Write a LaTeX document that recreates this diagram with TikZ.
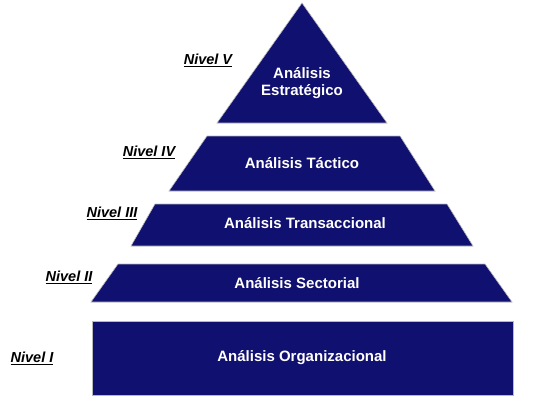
\documentclass[tikz,border=0pt]{standalone}
\usepackage{fontspec}
\setmainfont{Liberation Sans}
\usepackage{xcolor}
\definecolor{navy}{RGB}{16,16,112}

\begin{document}
\begin{tikzpicture}[x=1pt, y=-1pt,
        level/.style={fill=navy, draw=gray!55, line width=0.6pt},
        lbl/.style={text=white, font=\fontsize{15}{18}\selectfont\bfseries, align=center},
        nivel/.style={font=\fontsize{14.5}{16}\selectfont\bfseries\itshape}]
        \useasboundingbox (0,0) rectangle (545,412);

        % Pyramid levels
        \draw[level] (302,3) -- (387,123) -- (217,123) -- cycle;
        \draw[level] (207,136) -- (400,136) -- (435,191) -- (169,191) -- cycle;
        \draw[level] (155,204) -- (447,204) -- (473,246) -- (131,246) -- cycle;
        \draw[level] (118,264) -- (485,264) -- (512,302) -- (91,302) -- cycle;
        \draw[level] (92,321) rectangle (513,395);

        % Level texts
        \node[lbl] (estrategico) at (302,83) {Análisis\\[-1pt]Estratégico};
        \node[lbl] (tactico) at (302,163) {Análisis Táctico};
        \node[lbl] (transaccional) at (305,223) {Análisis Transaccional};
        \node[lbl] (sectorial) at (297,283) {Análisis Sectorial};
        \node[lbl] (organizacional) at (302,358) {Análisis Organizacional};

        % Level names
        \node[nivel] (nivelV) at (208,60) {\underline{Nivel V}};
        \node[nivel] (nivelIV) at (149,152) {\underline{Nivel IV}};
        \node[nivel] (nivelIII) at (112,213) {\underline{Nivel III}};
        \node[nivel] (nivelII) at (69,277) {\underline{Nivel II}};
        \node[nivel] (nivelI) at (32,358) {\underline{Nivel I}};
    \end{tikzpicture}
\end{document}
